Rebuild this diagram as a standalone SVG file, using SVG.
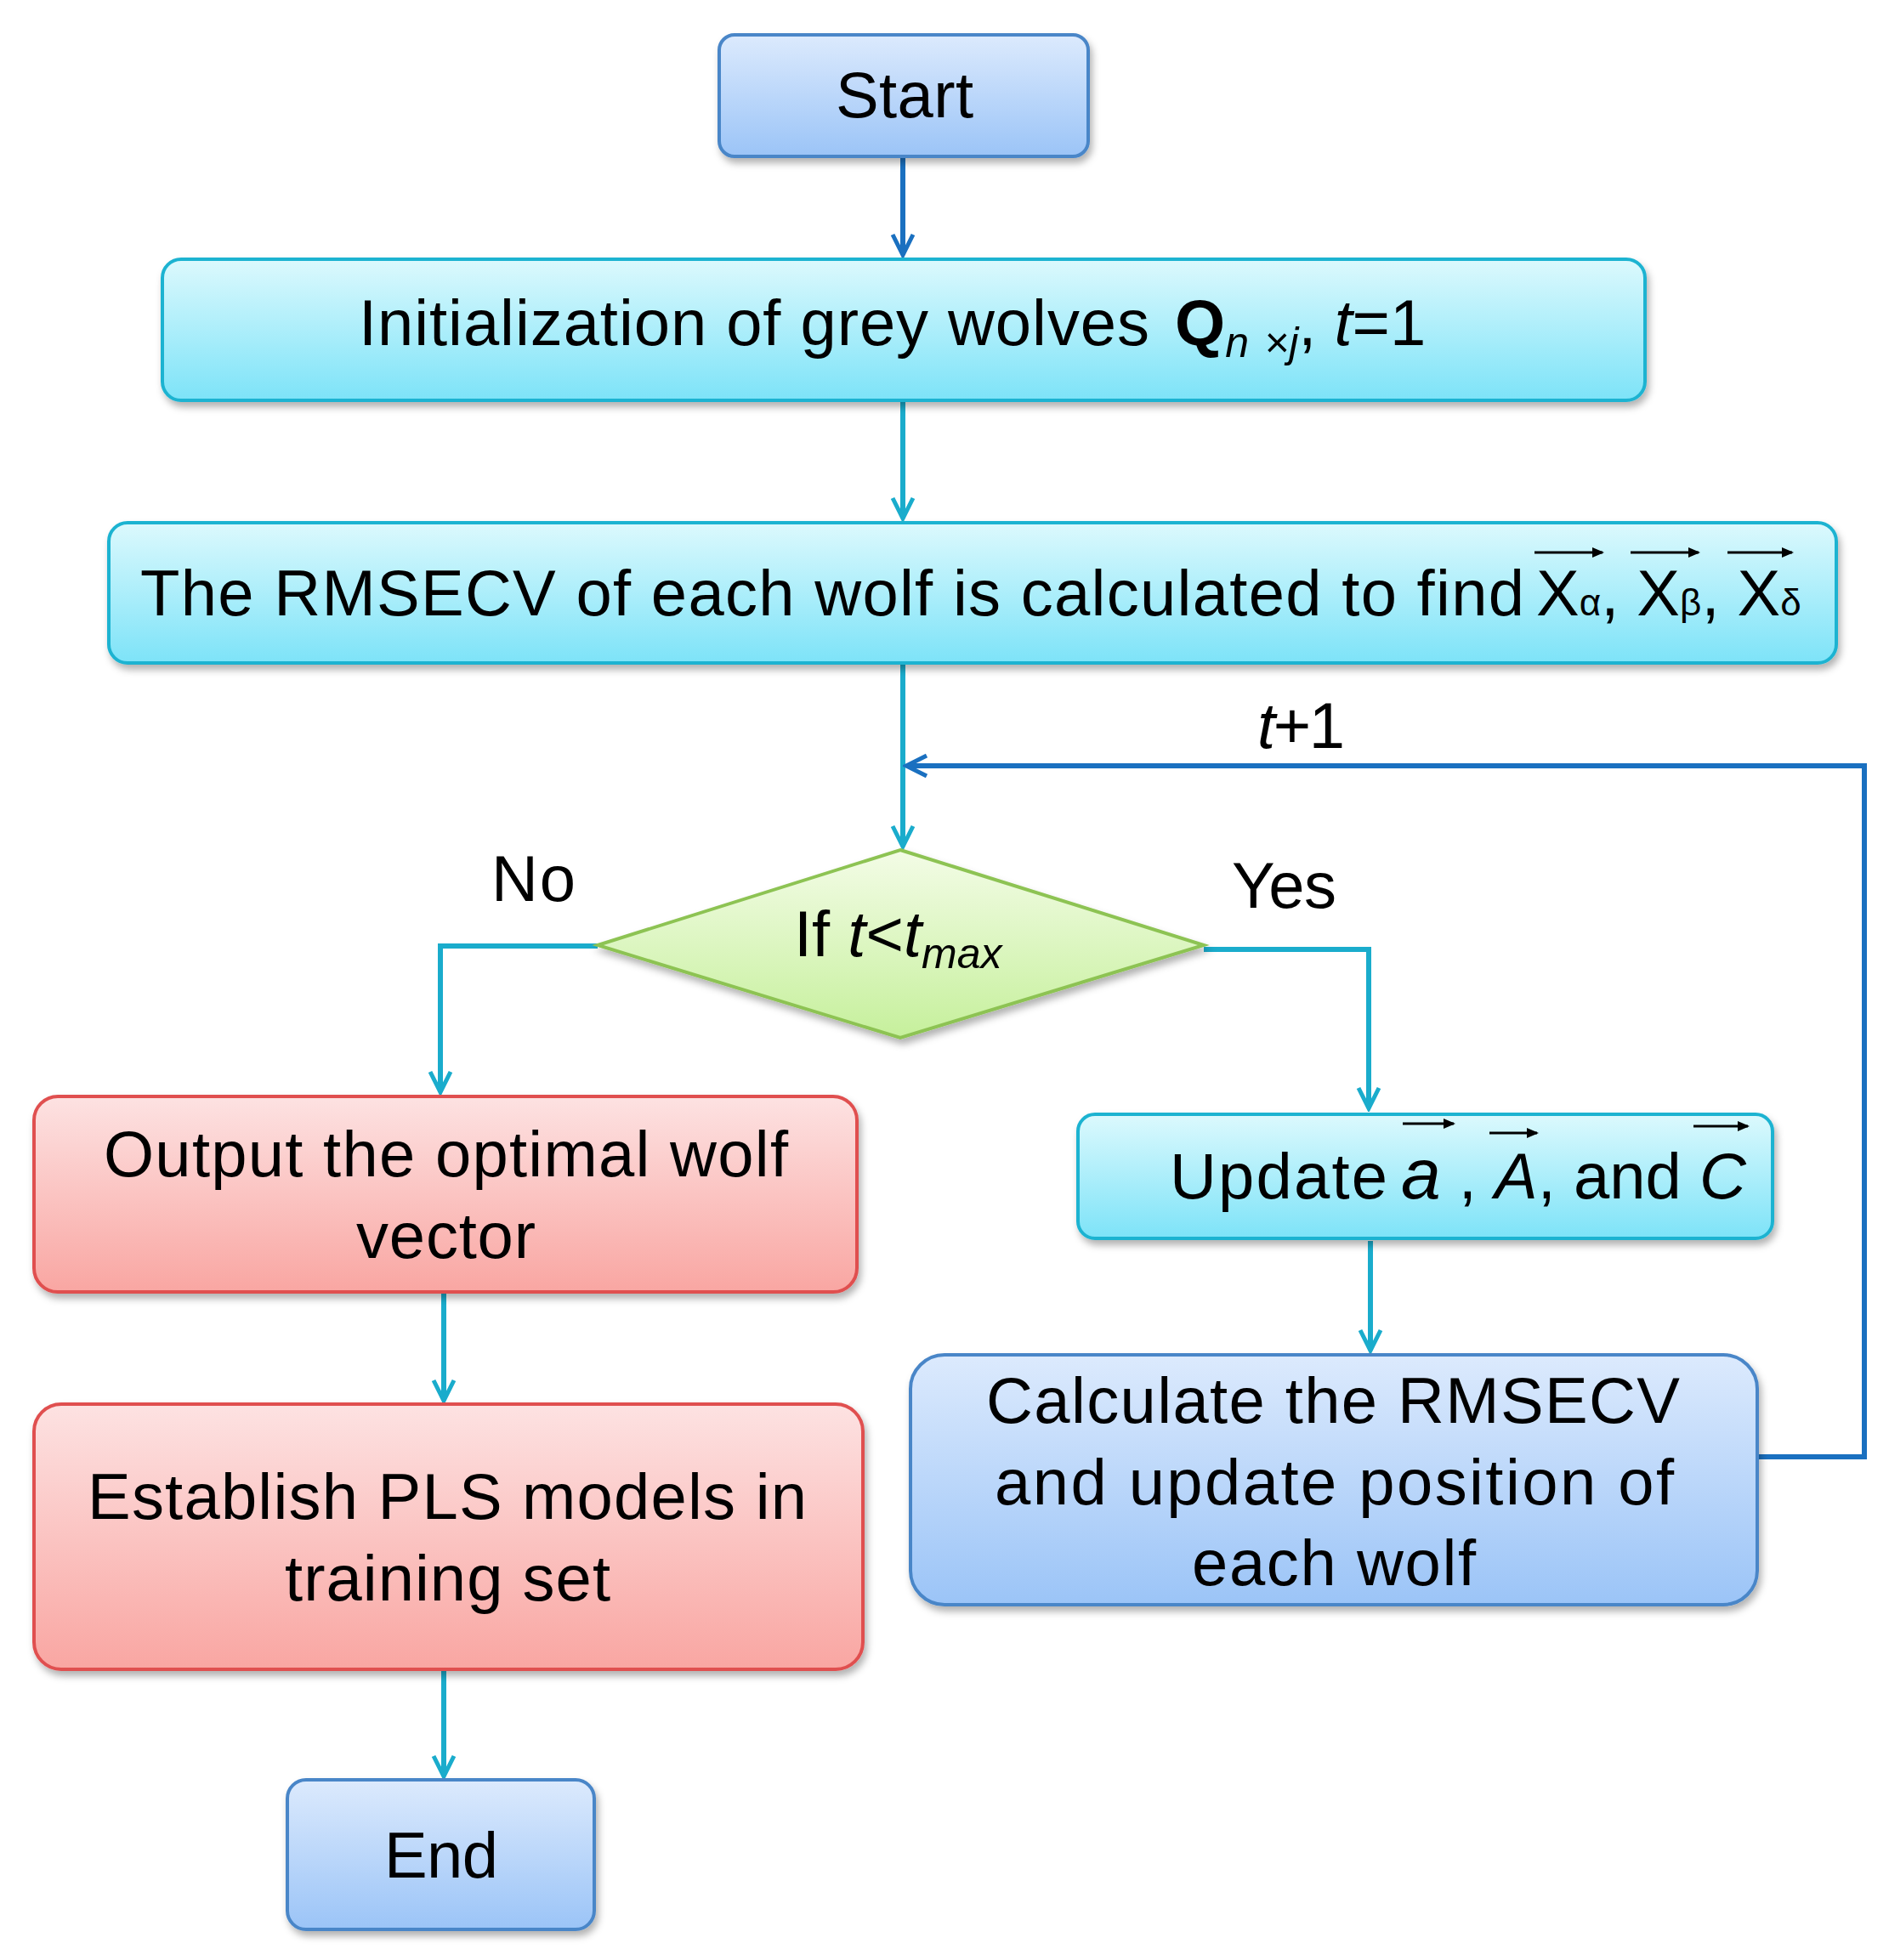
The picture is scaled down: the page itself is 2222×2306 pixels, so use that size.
<svg xmlns="http://www.w3.org/2000/svg" width="2222" height="2306" viewBox="0 0 2222 2306">
<style>
text{font-family:"Liberation Sans",Arial,sans-serif;font-size:76px;fill:#000}
.c{fill:none;stroke:#1aaccc;stroke-width:6}
.b{fill:none;stroke:#1a70c0;stroke-width:6}
.va{stroke:#000;stroke-width:3;marker-end:url(#vh)}
</style>
<defs>
<linearGradient id="gb" x1="0" y1="0" x2="0" y2="1"><stop offset="0" stop-color="#dceafd"/><stop offset="1" stop-color="#9bc4f7"/></linearGradient>
<linearGradient id="gc" x1="0" y1="0" x2="0" y2="1"><stop offset="0" stop-color="#dcf9fd"/><stop offset="1" stop-color="#7de3f8"/></linearGradient>
<linearGradient id="gr" x1="0" y1="0" x2="0" y2="1"><stop offset="0" stop-color="#fde2e2"/><stop offset="1" stop-color="#f9a6a2"/></linearGradient>
<linearGradient id="gg" x1="0" y1="0" x2="0" y2="1"><stop offset="0" stop-color="#f3fce6"/><stop offset="1" stop-color="#c6f09c"/></linearGradient>
<filter id="sh" x="-5%" y="-10%" width="110%" height="125%"><feDropShadow dx="3" dy="6" stdDeviation="4" flood-color="#000" flood-opacity="0.3"/></filter>
<marker id="ac" markerWidth="32" markerHeight="32" refX="28" refY="16" orient="auto" markerUnits="userSpaceOnUse" viewBox="0 0 32 32"><path d="M4,4 L28,16 L4,28" fill="none" stroke="#1aaccc" stroke-width="5"/></marker>
<marker id="ab" markerWidth="32" markerHeight="32" refX="28" refY="16" orient="auto" markerUnits="userSpaceOnUse" viewBox="0 0 32 32"><path d="M4,4 L28,16 L4,28" fill="none" stroke="#1a70c0" stroke-width="5"/></marker>
<marker id="vh" markerWidth="14" markerHeight="12" refX="12" refY="6" orient="auto" markerUnits="userSpaceOnUse"><path d="M0,0 L14,6 L0,12z" fill="#000"/></marker>
</defs>
<g id="connectors">
<path class="b" d="M1062,184 V300" style="marker-end:url(#ab)"/>
<path class="c" d="M1062,471 V610" style="marker-end:url(#ac)"/>
<path class="c" d="M1062,780 V996" style="marker-end:url(#ac)"/>
<path class="c" d="M703,1113 H518 V1285" style="marker-end:url(#ac)"/>
<path class="c" d="M1416,1117 H1610 V1304" style="marker-end:url(#ac)"/>
<path class="c" d="M1612,1460 V1589" style="marker-end:url(#ac)"/>
<path class="c" d="M522,1520 V1648" style="marker-end:url(#ac)"/>
<path class="c" d="M522,1964 V2090" style="marker-end:url(#ac)"/>
<path class="b" d="M2067,1714 H2193 V901 H1066" style="marker-end:url(#ab)"/>
<text x="1479" y="880" textLength="103"><tspan font-style="italic">t</tspan>+1</text>
<text x="578" y="1060" textLength="99">No</text>
<text x="1449" y="1068" textLength="123">Yes</text>
</g>
<g id="start"><rect x="846" y="41" width="434" height="143" rx="18" fill="url(#gb)" stroke="#4a86c8" stroke-width="4" filter="url(#sh)"/><text x="983" y="138" font-size="80" textLength="162">Start</text></g>
<g id="init"><rect x="191" y="305" width="1744" height="166" rx="22" fill="url(#gc)" stroke="#1fb3d1" stroke-width="4" filter="url(#sh)"/>
<text x="422" y="406" textLength="930">Initialization of grey wolves</text>
<text x="1382" y="406"><tspan font-weight="bold">Q</tspan><tspan font-style="italic" font-size="50" dy="14">n</tspan><tspan font-size="50" font-style="italic" dx="18">×j</tspan><tspan dy="-14">, </tspan><tspan font-style="italic">t</tspan>=1</text></g>
<g id="rmsecv"><rect x="128" y="615" width="2032" height="165" rx="22" fill="url(#gc)" stroke="#1fb3d1" stroke-width="4" filter="url(#sh)"/>
<text x="165" y="724" textLength="1628">The RMSECV of each wolf is calculated to find</text>
<text x="1807" y="724">X<tspan font-size="44">α</tspan>, X<tspan font-size="44">β</tspan>, X<tspan font-size="44">δ</tspan></text>
<line class="va" x1="1805" y1="650" x2="1885" y2="650"/><line class="va" x1="1918" y1="650" x2="1998" y2="650"/><line class="va" x1="2032" y1="650" x2="2108" y2="650"/></g>
<g id="decision"><polygon points="1059,1000 1416,1112 1059,1221 703,1112" fill="url(#gg)" stroke="#8dc353" stroke-width="4" filter="url(#sh)"/>
<text x="934" y="1125">If <tspan font-style="italic">t</tspan>&lt;<tspan font-style="italic">t</tspan><tspan font-style="italic" font-size="50" dy="14">max</tspan></text></g>
<g id="output"><rect x="40" y="1290" width="968" height="230" rx="28" fill="url(#gr)" stroke="#e05050" stroke-width="4" filter="url(#sh)"/>
<text x="122" y="1384" textLength="805">Output the optimal wolf</text><text x="419" y="1480" textLength="211">vector</text></g>
<g id="establish"><rect x="40" y="1652" width="975" height="312" rx="32" fill="url(#gr)" stroke="#e05050" stroke-width="4" filter="url(#sh)"/>
<text x="103" y="1787" textLength="846">Establish PLS models in</text><text x="335" y="1883" textLength="383">training set</text></g>
<g id="end"><rect x="338" y="2094" width="361" height="176" rx="22" fill="url(#gb)" stroke="#4a86c8" stroke-width="4" filter="url(#sh)"/><text x="452" y="2209" font-size="80" textLength="134">End</text></g>
<g id="update"><rect x="1268" y="1311" width="817" height="146" rx="20" fill="url(#gc)" stroke="#1fb3d1" stroke-width="4" filter="url(#sh)"/>
<text x="1376" y="1410" textLength="256">Update</text>
<text x="1648" y="1410"><tspan font-style="italic" font-size="84">a</tspan> , <tspan font-style="italic">A</tspan>, and <tspan font-style="italic">C</tspan></text>
<line class="va" x1="1650" y1="1322" x2="1710" y2="1322"/><line class="va" x1="1752" y1="1333" x2="1808" y2="1333"/><line class="va" x1="1992" y1="1325" x2="2056" y2="1325"/></g>
<g id="calc"><rect x="1071" y="1594" width="996" height="294" rx="40" fill="url(#gb)" stroke="#4a86c8" stroke-width="4" filter="url(#sh)"/>
<text x="1160" y="1674" textLength="816">Calculate the RMSECV</text><text x="1170" y="1770" textLength="799">and update position  of</text><text x="1402" y="1865" textLength="334">each wolf</text></g>
</svg>
